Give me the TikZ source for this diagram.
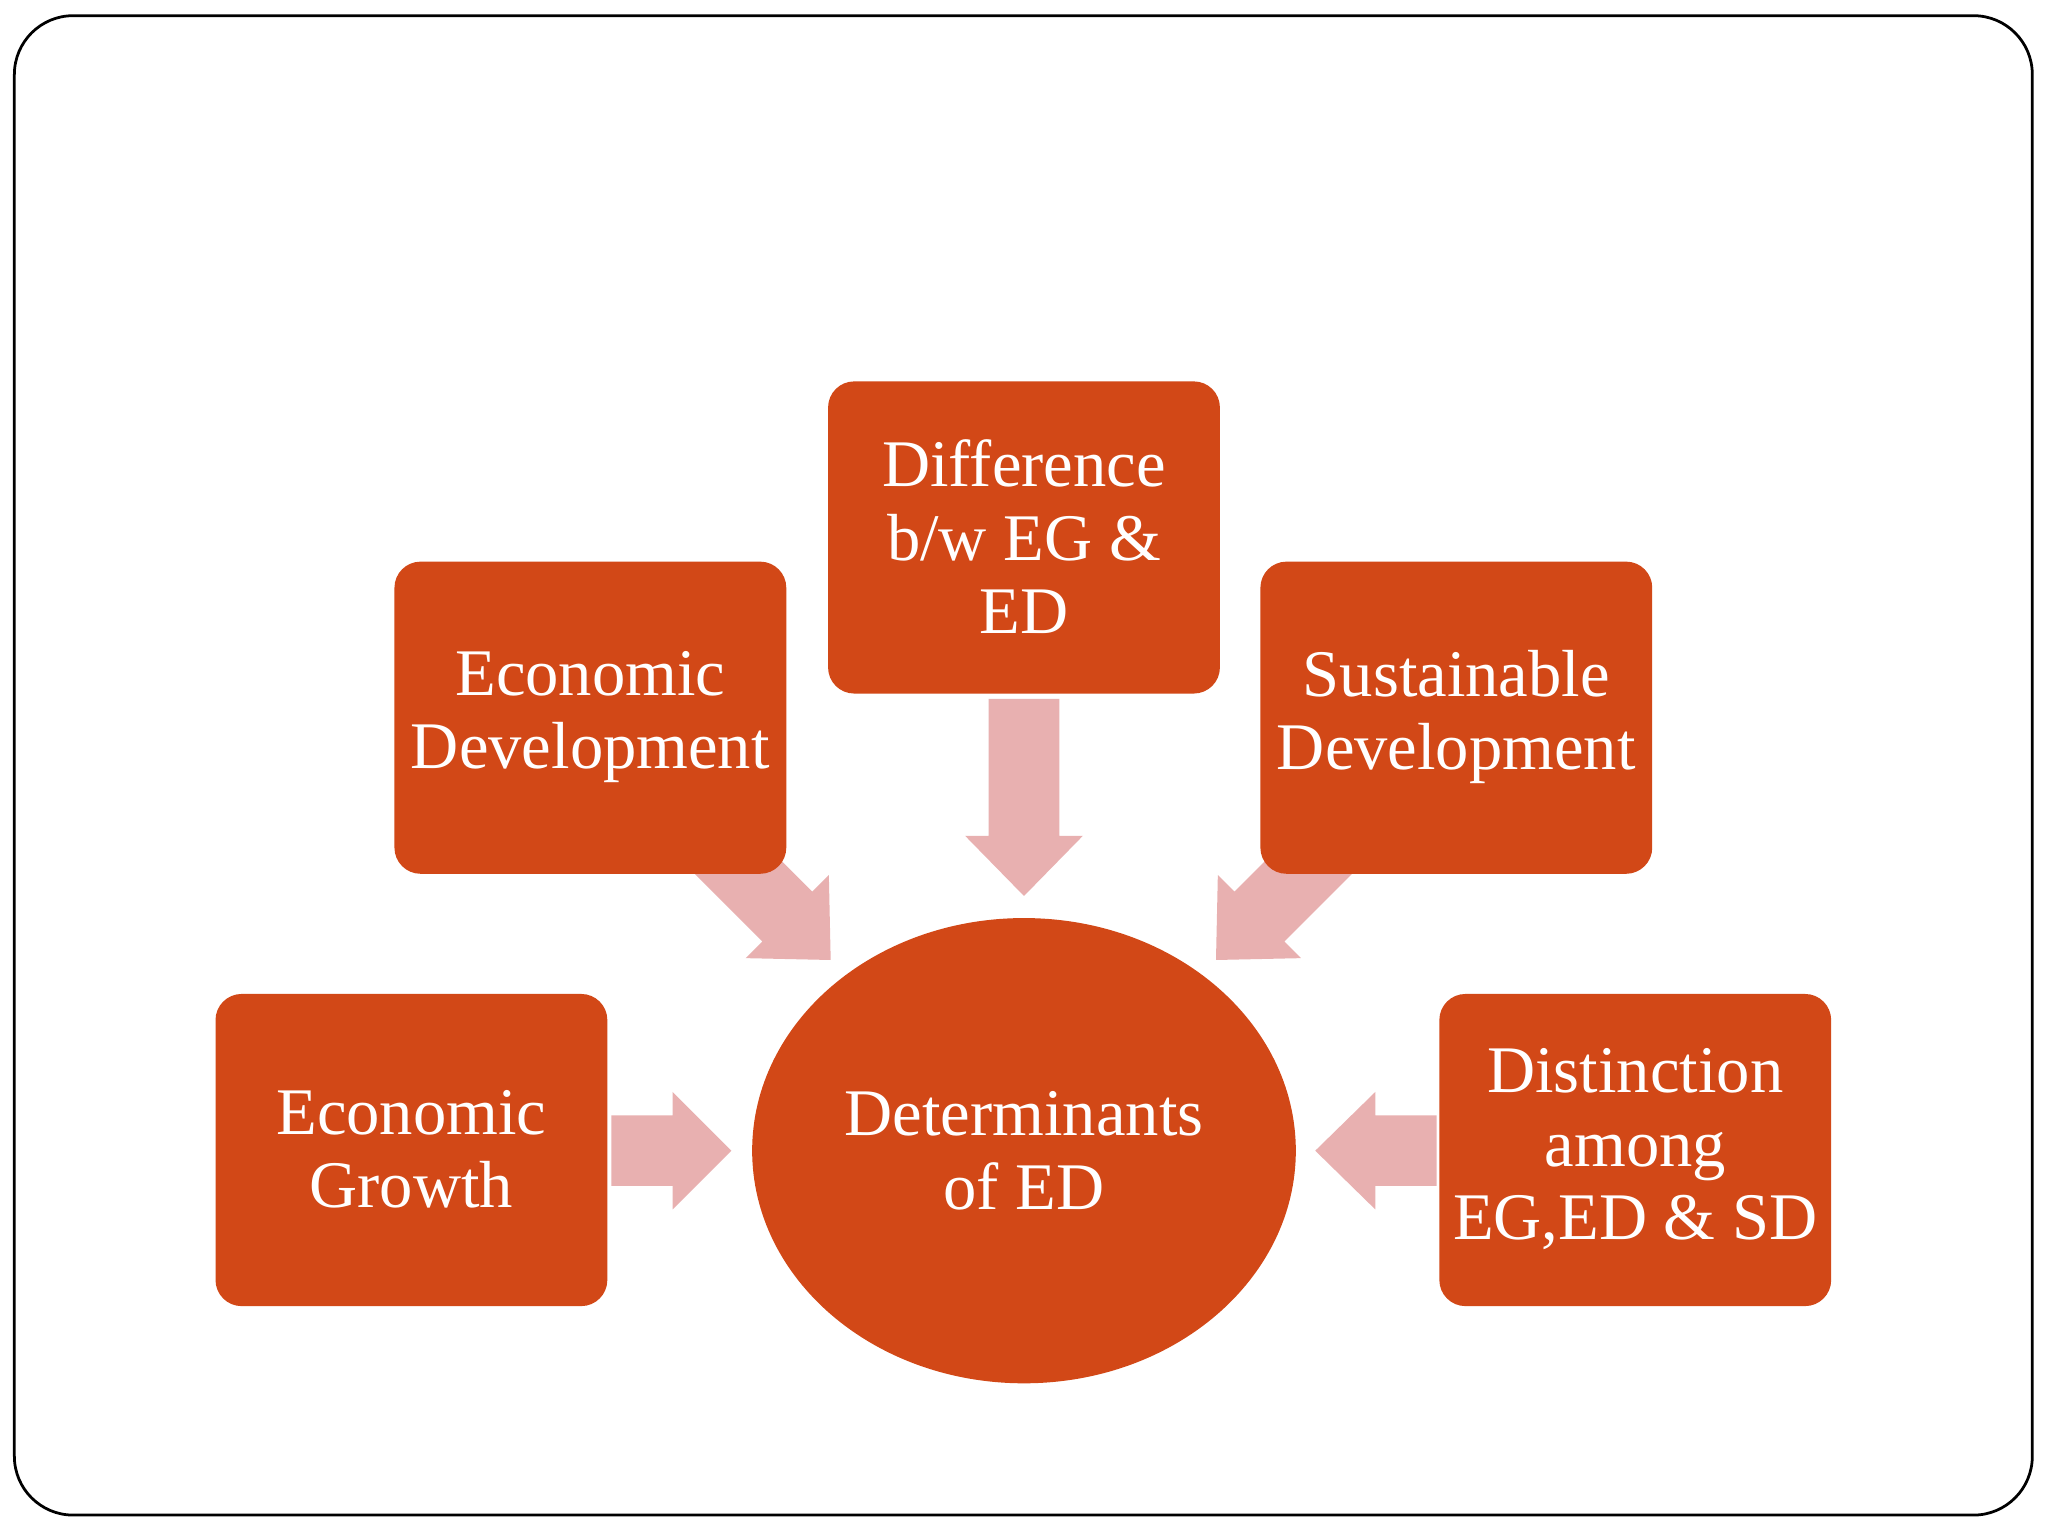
\documentclass[tikz,border=0pt]{standalone}
\usepackage{fontspec}
\setmainfont{Liberation Serif}
\usetikzlibrary{shapes.geometric}
\definecolor{boxred}{HTML}{D24817}
\definecolor{pinkarrow}{HTML}{E8B0B0}
\begin{document}
\begin{tikzpicture}[x=0.01cm,y=-0.01cm,
  rbox/.style={fill=boxred,rounded corners=0.2cm,inner sep=0pt},
  btext/.style={text=white,font=\fontsize{14.5}{16}\selectfont,align=center},
  blockarrow/.style={fill=pinkarrow,draw=none}]
\useasboundingbox (0,0) rectangle (1568,1176);
\fill[white] (0,0) rectangle (1568,1176);
\draw[line width=0.6pt,rounded corners=0.45cm] (11,12) rectangle (1556,1160);
% diagonal arrows (behind boxes)
\begin{scope}[shift={(636,735)},rotate=-45]
  \fill[blockarrow] (-120,-27)--(-47,-27)--(-47,-45)--(0,0)--(-47,45)--(-47,27)--(-120,27)--cycle;
\end{scope}
\begin{scope}[shift={(931,735)},rotate=-135]
  \fill[blockarrow] (-120,-27)--(-47,-27)--(-47,-45)--(0,0)--(-47,45)--(-47,27)--(-120,27)--cycle;
\end{scope}
% boxes
\fill[rbox] (165,761) rectangle (465,1000);
\node[btext] (eg) at (315,880) {Economic\\Growth};
\fill[rbox] (302,430) rectangle (602,669);
\node[btext] (ed) at (452,549) {Economic\\Development};
\fill[rbox] (634,292) rectangle (934,531);
\node[btext] (diff) at (784,411) {Difference\\b/w EG \&\\ED};
\fill[rbox] (965,430) rectangle (1265,669);
\node[btext] (sd) at (1115,549) {Sustainable\\Development};
\fill[rbox] (1102,761) rectangle (1402,1000);
\node[btext] (dist) at (1252,880) {Distinction\\among\\EG,ED \& SD};
\node[ellipse,fill=boxred,minimum width=4.16cm,minimum height=3.56cm,inner sep=0pt,btext] (det) at (784,881) {Determinants\\of ED};
% straight arrows
\fill[blockarrow] (468,854)--(515,854)--(515,836)--(560,881)--(515,926)--(515,908)--(468,908)--cycle;
\fill[blockarrow] (1100,854)--(1053,854)--(1053,836)--(1007,881)--(1053,926)--(1053,908)--(1100,908)--cycle;
\fill[blockarrow] (757,535)--(757,640)--(739,640)--(784,686)--(829,640)--(811,640)--(811,535)--cycle;
\end{tikzpicture}
\end{document}
